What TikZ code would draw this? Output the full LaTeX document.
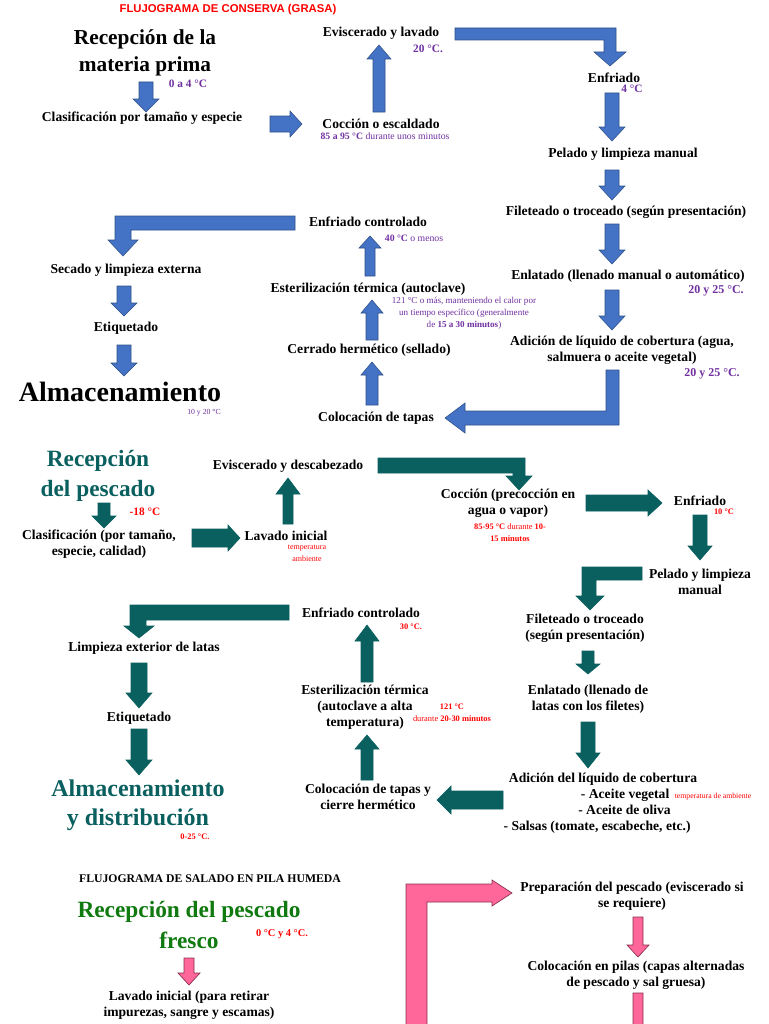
\documentclass[tikz,border=0pt]{standalone}
\usepackage{fontspec}
\setmainfont{Liberation Serif}
\newfontfamily\titsans{Liberation Sans}
\definecolor{bl}{HTML}{4472C4}
\definecolor{tl}{HTML}{0A5F5F}
\definecolor{pk}{HTML}{FF6699}
\definecolor{pkd}{HTML}{8A3050}
\definecolor{pu}{HTML}{7030A0}
\definecolor{gr}{HTML}{107A10}
\newcommand\arD[7]{\filldraw[#7] (#1-#4,#2) -- (#1+#4,#2) -- (#1+#4,#3-#6) -- (#1+#5,#3-#6) -- (#1,#3) -- (#1-#5,#3-#6) -- (#1-#4,#3-#6) -- cycle;}
\newcommand\arU[7]{\filldraw[#7] (#1-#4,#2) -- (#1+#4,#2) -- (#1+#4,#3+#6) -- (#1+#5,#3+#6) -- (#1,#3) -- (#1-#5,#3+#6) -- (#1-#4,#3+#6) -- cycle;}
\newcommand\arR[7]{\filldraw[#7] (#2,#1-#4) -- (#2,#1+#4) -- (#3-#6,#1+#4) -- (#3-#6,#1+#5) -- (#3,#1) -- (#3-#6,#1-#5) -- (#3-#6,#1-#4) -- cycle;}
\newcommand\arL[7]{\filldraw[#7] (#2,#1-#4) -- (#2,#1+#4) -- (#3+#6,#1+#4) -- (#3+#6,#1+#5) -- (#3,#1) -- (#3+#6,#1-#5) -- (#3+#6,#1-#4) -- cycle;}
\begin{document}
\begin{tikzpicture}[x=0.75pt,y=-0.75pt,
 t/.style={font=\fontsize{10.2}{12}\selectfont\bfseries,align=center,inner sep=0pt},
 big/.style={font=\fontsize{16}{20}\selectfont\bfseries,align=center,inner sep=0pt},
 pt/.style={font=\fontsize{7.3}{9}\selectfont,text=pu,align=center,inner sep=0pt},
 rt/.style={font=\fontsize{6.5}{9}\selectfont,text=red,align=center,inner sep=0pt},
 B/.style={fill=bl,draw=bl!70!black,line width=0.4pt},
 T/.style={fill=tl,draw=tl},
 P/.style={fill=pk,draw=pkd,line width=0.5pt}]
\useasboundingbox (0,0) rectangle (768,1024);
\fill[white] (0,0) rectangle (768,1024);
% ---------- section 1
\node[font=\titsans\fontsize{8.5}{10}\selectfont\bfseries,text=red] (t1) at (228,10) {FLUJOGRAMA DE CONSERVA (GRASA)};
\node[big] (r1) at (145,53) {Recepción de la\\materia prima};
\node[pt,font=\fontsize{8.5}{9}\selectfont\bfseries] (r1t) at (188,84) {0 a 4 °C};
\arD{146}{82}{112}{7}{13}{13}{B}
\node[t] (c1) at (142,118) {Clasificación por tamaño y especie};
\arR{124}{270}{302}{8}{13}{12}{B}
\node[t] (co1) at (381,124) {Cocción o escaldado};
\node[pt] (co1t) at (385,136) {\textbf{85 a 95 °C} durante unos minutos};
\arU{379}{112}{45}{6}{12}{14}{B}
\node[t] (ev1) at (381,33) {Eviscerado y lavado};
\node[pt,font=\fontsize{8.5}{9}\selectfont\bfseries] (ev1t) at (428,49) {20 °C.};
\filldraw[B] (455,28)--(616,28)--(616,52)--(626,52)--(610,66)--(594,52)--(604,52)--(604,40)--(455,40)--cycle;
\node[t] (en1) at (614,78) {Enfriado};
\node[pt,font=\fontsize{8.5}{9}\selectfont\bfseries] (en1t) at (632,89) {4 °C};
\arD{612}{93}{141}{7}{13}{14}{B}
\node[t] (pe1) at (623,154) {Pelado y limpieza manual};
\arD{612}{170}{200}{7}{13}{14}{B}
\node[t] (fi1) at (626,212) {Fileteado o troceado (según presentación)};
\arD{612}{224}{264}{7}{13}{14}{B}
\node[t] (el1) at (628,276) {Enlatado (llenado manual o automático)};
\node[pt,font=\fontsize{9}{9}\selectfont\bfseries] (el1t) at (716,291) {20 y 25 °C.};
\arD{612}{290}{330}{7}{13}{14}{B}
\node[t] (ad1) at (622,350) {Adición de líquido de cobertura (agua,\\salmuera o aceite vegetal)};
\node[pt,font=\fontsize{9}{9}\selectfont\bfseries] (ad1t) at (712,374) {20 y 25 °C.};
\filldraw[B] (606,370)--(619,370)--(619,425)--(465,425)--(465,433)--(445,418)--(465,403)--(465,411)--(606,411)--cycle;
\node[t] (ct1) at (376,418) {Colocación de tapas};
\arU{372}{405}{362}{6}{11}{13}{B}
\node[t] (ce1) at (369,350) {Cerrado hermético (sellado)};
\arU{372}{340}{300}{6}{11}{13}{B}
\node[t] (es1) at (368,289) {Esterilización térmica (autoclave)};
\node[pt,font=\fontsize{6.8}{9}\selectfont] (es1t) at (464,313) {121 °C o más, manteniendo el calor por\\un tiempo específico (generalmente\\de \textbf{15 a 30 minutos})};
\arU{370}{276}{236}{5}{11}{12}{B}
\node[pt] (ec1t) at (414,238) {\textbf{40 °C} o menos};
\node[t] (ec1) at (368,222) {Enfriado controlado};
\filldraw[B] (295,216)--(295,230)--(131,230)--(131,240)--(138,240)--(123,256)--(108,240)--(115,240)--(115,216)--cycle;
\node[t] (se1) at (126,270) {Secado y limpieza externa};
\arD{124}{286}{316}{7}{13}{13}{B}
\node[t] (et1) at (126,328) {Etiquetado};
\arD{124}{345}{376}{7}{13}{13}{B}
\node[font=\fontsize{21}{24}\selectfont\bfseries,inner sep=0pt] (al1) at (120,392) {Almacenamiento};
\node[pt,font=\fontsize{5.8}{7}\selectfont] (al1t) at (204,413) {10 y 20 °C};
% ---------- section 2
\node[big,text=tl,font=\fontsize{17.5}{22}\selectfont\bfseries] (r2) at (98,476) {Recepción\\del pescado};
\arD{104}{503}{528}{6}{12}{12}{T}
\node[rt,font=\fontsize{8.5}{9}\selectfont\bfseries] (r2t) at (145,512) {-18 °C};
\node[t] (c2) at (99,544) {Clasificación (por tamaño,\\especie, calidad)};
\arR{538}{192}{240}{9}{13}{12}{T}
\node[t] (la2) at (286,536) {Lavado inicial};
\node[rt,font=\fontsize{6}{9}\selectfont] (la2t) at (307,553) {temperatura\\ambiente};
\arU{288}{524}{478}{5}{12}{16}{T}
\node[t] (ev2) at (288,466) {Eviscerado y descabezado};
\filldraw[T] (378,458)--(525,458)--(525,476)--(532,476)--(519,490)--(506,476)--(513,476)--(513,473)--(378,473)--cycle;
\node[t] (co2) at (508,503) {Cocción (precocción en\\agua o vapor)};
\node[rt,font=\fontsize{6.3}{9}\selectfont\bfseries] (co2t) at (510,533) {85-95 °C \mdseries durante \bfseries 10-\\15 minutos};
\arR{503}{586}{662}{8}{13}{14}{T}
\node[t] (en2) at (700,501) {Enfriado};
\node[rt,font=\fontsize{6.3}{9}\selectfont\bfseries] (en2t) at (724,512) {10 °C};
\arD{700}{515}{560}{7}{12}{14}{T}
\node[t] (pe2) at (700,582) {Pelado y limpieza\\manual};
\filldraw[T] (642,567)--(642,580)--(596,580)--(596,596)--(604,596)--(590,610)--(576,596)--(582,596)--(582,567)--cycle;
\node[t] (fi2) at (585,628) {Fileteado o troceado\\(según presentación)};
\arD{588}{651}{674}{6}{12}{10}{T}
\node[t] (el2) at (588,699) {Enlatado (llenado de\\latas con los filetes)};
\arD{588}{722}{768}{7}{12}{15}{T}
\node[t,align=left,anchor=north west] (ad2) at (498,773) {\hspace*{8pt}Adición del líquido de cobertura\\\hspace*{62pt}- Aceite vegetal\\\hspace*{60pt}- Aceite de oliva\\\hspace*{4pt}- Salsas (tomate, escabeche, etc.)};
\node[rt,font=\fontsize{5.8}{9}\selectfont] (ad2t) at (713,797) {temperatura de ambiente};
\arL{800}{503}{437}{9}{14}{14}{T}
\node[t] (ct2) at (368,797) {Colocación de tapas y\\cierre hermético};
\arU{367}{780}{735}{6}{12}{14}{T}
\node[t] (es2) at (365,707) {Esterilización térmica\\(autoclave a alta\\temperatura)};
\node[rt,font=\fontsize{6.3}{9}\selectfont] (es2t) at (452,713) {\textbf{121 °C}\\durante \textbf{20-30 minutos}};
\arU{367}{682}{625}{6}{12}{16}{T}
\node[t] (ec2) at (361,613) {Enfriado controlado};
\node[rt,font=\fontsize{6.3}{9}\selectfont\bfseries] (ec2t) at (411,627) {30 °C.};
\filldraw[T] (289,605)--(289,620)--(146,620)--(146,626)--(154,626)--(139,638)--(124,626)--(130,626)--(130,605)--cycle;
\node[t] (li2) at (144,648) {Limpieza exterior de latas};
\arD{139}{663}{708}{8}{13}{15}{T}
\node[t] (et2) at (139,718) {Etiquetado};
\arD{139}{729}{775}{8}{13}{15}{T}
\node[big,text=tl,font=\fontsize{18}{22}\selectfont\bfseries] (al2) at (138,805) {Almacenamiento\\y distribución};
\node[rt,font=\fontsize{6.3}{9}\selectfont\bfseries] (al2t) at (195,837) {0-25 °C.};
% ---------- section 3
\node[t,font=\fontsize{8.8}{10}\selectfont\bfseries] (t3) at (210,879) {FLUJOGRAMA DE SALADO EN PILA HUMEDA};
\node[big,text=gr,font=\fontsize{17.5}{23}\selectfont\bfseries] (r3) at (189,925) {Recepción del pescado\\fresco};
\node[rt,font=\fontsize{7.8}{9}\selectfont\bfseries] (r3t) at (282,934) {0 °C y 4 °C.};
\arD{189}{958}{985}{5}{11}{12}{P}
\node[t] (la3) at (189,1005) {Lavado inicial (para retirar\\impurezas, sangre y escamas)};
\filldraw[P] (406,1030)--(406,884)--(492,884)--(492,880)--(512,893)--(492,906)--(492,902)--(427,902)--(427,1030)--cycle;
\node[t] (pr3) at (632,896) {Preparación del pescado (eviscerado si\\se requiere)};
\arD{638}{917}{957}{5}{11}{12}{P}
\node[t] (cp3) at (636,975) {Colocación en pilas (capas alternadas\\de pescado y sal gruesa)};
\arD{638}{993}{1040}{5}{11}{12}{P}
\end{tikzpicture}
\end{document}
